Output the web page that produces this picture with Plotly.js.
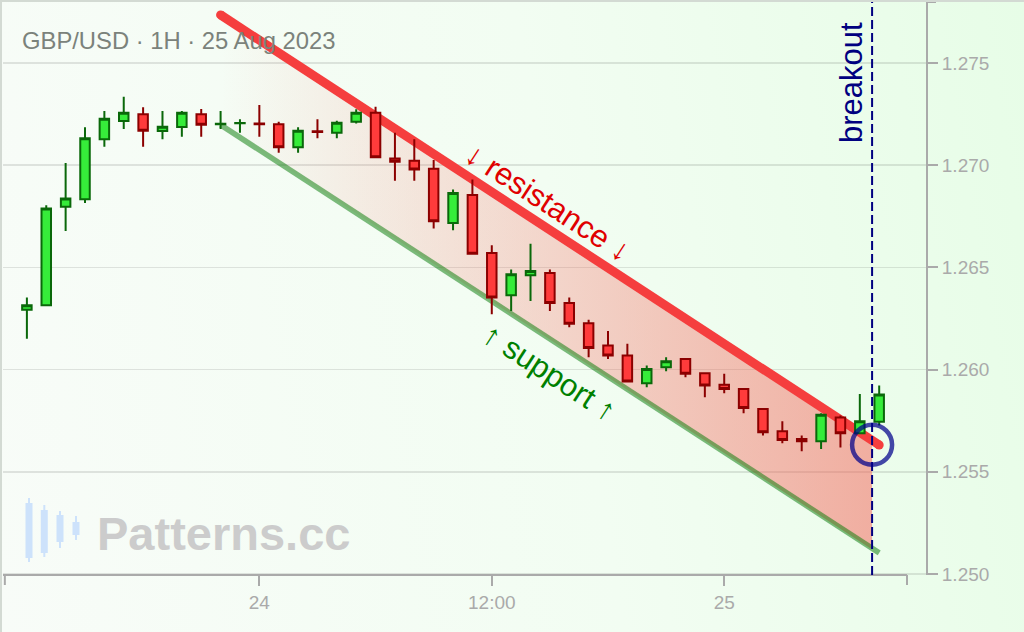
<!DOCTYPE html>
<html><head><meta charset="utf-8">
<script src="https://cdn.plot.ly/plotly-3.0.1.min.js"></script>
<style>
html,body{margin:0;padding:0;}
body{width:1024px;height:632px;overflow:hidden;position:relative;
 background:linear-gradient(80deg,#f8fcf8 0%,#f2fdf2 55%,#e7fde7 100%);}
#chart{width:1024px;height:632px;}
#frame{position:absolute;left:0;top:0;width:1024px;height:632px;border-top:2px solid #d3dad3;border-left:2px solid #d3dad3;box-sizing:border-box;pointer-events:none;}
</style></head>
<body><div id="chart"></div><div id="frame"></div>
<script>
// ---- data ----
const times = [
 '2023-08-23 12:00','2023-08-23 13:00','2023-08-23 14:00','2023-08-23 15:00','2023-08-23 16:00','2023-08-23 17:00',
 '2023-08-23 18:00','2023-08-23 19:00','2023-08-23 20:00','2023-08-23 21:00','2023-08-23 22:00','2023-08-23 23:00',
 '2023-08-24 00:00','2023-08-24 01:00','2023-08-24 02:00','2023-08-24 03:00','2023-08-24 04:00','2023-08-24 05:00',
 '2023-08-24 06:00','2023-08-24 07:00','2023-08-24 08:00','2023-08-24 09:00','2023-08-24 10:00','2023-08-24 11:00',
 '2023-08-24 12:00','2023-08-24 13:00','2023-08-24 14:00','2023-08-24 15:00','2023-08-24 16:00','2023-08-24 17:00',
 '2023-08-24 18:00','2023-08-24 19:00','2023-08-24 20:00','2023-08-24 21:00','2023-08-24 22:00','2023-08-24 23:00',
 '2023-08-25 00:00','2023-08-25 01:00','2023-08-25 02:00','2023-08-25 03:00','2023-08-25 04:00','2023-08-25 05:00',
 '2023-08-25 06:00','2023-08-25 07:00','2023-08-25 08:00'];
const opens = [1.26293,1.26314,1.26796,1.26833,1.27127,1.27216,1.27249,1.27167,1.27186,1.27249,1.27200,1.27205,1.27204,1.27200,1.27087,1.27166,1.27158,1.27212,1.27256,1.27033,1.27021,1.26982,1.26717,1.26854,1.26570,1.26363,1.26461,1.26472,1.26325,1.26227,1.26118,1.26069,1.25933,1.26011,1.26052,1.25982,1.25926,1.25905,1.25807,1.25698,1.25660,1.25649,1.25766,1.25688,1.25745];
const highs = [1.26352,1.26804,1.27011,1.27185,1.27265,1.27335,1.27283,1.27265,1.27265,1.27275,1.27265,1.27224,1.27294,1.27212,1.27185,1.27224,1.27217,1.27273,1.27286,1.27158,1.27126,1.27025,1.26881,1.26930,1.26608,1.26489,1.26616,1.26489,1.26352,1.26244,1.26188,1.26126,1.26020,1.26060,1.26055,1.25984,1.25979,1.25907,1.25808,1.25747,1.25677,1.25786,1.25775,1.25881,1.25922];
const lows = [1.26151,1.26310,1.26678,1.26815,1.27090,1.27177,1.27090,1.27127,1.27139,1.27139,1.27177,1.27158,1.27139,1.27060,1.27060,1.27131,1.27131,1.27204,1.27035,1.26923,1.26923,1.26690,1.26681,1.26565,1.26270,1.26286,1.26335,1.26286,1.26207,1.26060,1.26052,1.25938,1.25913,1.25992,1.25962,1.25864,1.25884,1.25786,1.25677,1.25639,1.25600,1.25611,1.25619,1.25686,1.25726];
const closes = [1.26314,1.26788,1.26837,1.27131,1.27227,1.27256,1.27168,1.27188,1.27256,1.27198,1.27203,1.27206,1.27200,1.27087,1.27168,1.27162,1.27207,1.27256,1.27038,1.27016,1.26979,1.26726,1.26864,1.26567,1.26352,1.26466,1.26482,1.26325,1.26224,1.26106,1.26069,1.25941,1.26003,1.26041,1.25979,1.25922,1.25905,1.25812,1.25693,1.25655,1.25649,1.25779,1.25688,1.25747,1.25878];

const lineTimes = ['2023-08-23 22:00','2023-08-25 08:00'];
const resistanceVals = [1.27735, 1.25631];
const supportVals = [1.27197, 1.25103];
const channelTimes = ['2023-08-23 22:00','2023-08-25 07:38'];
const channelTop = [1.27735, 1.25647];
const channelBottom = [1.27197, 1.25120];
const breakoutTime = '2023-08-25 07:38';
const breakoutPrice = 1.25632;

const xTickVals = ['2023-08-24 00:00','2023-08-24 12:00','2023-08-25 00:00'];
const xTickText = ['24','12:00','25'];
const yTickVals = [1.250,1.255,1.260,1.265,1.270,1.275];
const xRange = ['2023-08-23 10:46','2023-08-25 10:25'];
const yRange = [1.24995, 1.27798];

const FONT = 'Liberation Sans, Arial, sans-serif';
const AX = '#aaaaaa';

// ---- traces ----
const fillTrace = {
  type:'scatter', mode:'none',
  x:[channelTimes[0], channelTimes[1], channelTimes[1], channelTimes[0]],
  y:[channelTop[0], channelTop[1], channelBottom[1], channelBottom[0]],
  fill:'toself',
  fillgradient:{type:'horizontal', colorscale:[[0,'rgba(245,95,85,0)'],[1,'rgba(245,95,85,0.5)']]},
  hoverinfo:'skip', showlegend:false
};
const supportTrace = {
  type:'scatter', mode:'lines', x:lineTimes, y:supportVals,
  line:{color:'rgba(0,120,0,0.5)', width:5.5}, hoverinfo:'skip', showlegend:false
};
const resistanceTrace = {
  type:'scatter', mode:'lines+markers', x:lineTimes, y:resistanceVals,
  line:{color:'rgb(245,62,62)', width:9}, marker:{color:'rgb(245,62,62)', size:9},
  hoverinfo:'skip', showlegend:false
};
// candles on an overlaying axis pair so they are drawn above the channel
const candles = {
  type:'candlestick', x:times, open:opens, high:highs, low:lows, close:closes,
  xaxis:'x2', yaxis:'y2',
  increasing:{line:{color:'#0a680a', width:2}, fillcolor:'#36ec3a'},
  decreasing:{line:{color:'#8b0000', width:2}, fillcolor:'#ff3b3b'},
  hoverinfo:'skip', showlegend:false
};

// watermark icon candles (pixel offsets from plot's left/bottom edge)
const iconColor = '#cde2fb';
const icon = [[26,72,17,77,13],[41.3,65,22,70,18],[57,60,33,64,27],[73,53,40,59,35]];
const iconShapes = [];
icon.forEach(c=>{
  iconShapes.push({type:'line', xref:'paper', yref:'paper', xsizemode:'pixel', ysizemode:'pixel',
    xanchor:0, yanchor:0, x0:c[0], x1:c[0], y0:c[4], y1:c[3], line:{color:iconColor, width:2}});
  iconShapes.push({type:'rect', xref:'paper', yref:'paper', xsizemode:'pixel', ysizemode:'pixel',
    xanchor:0, yanchor:0, x0:c[0]-3.5, x1:c[0]+3.5, y0:c[2], y1:c[1], fillcolor:iconColor, line:{width:0}});
});

const xEnd = (907-3)/923;
const shapes = [
  {type:'line', xref:'paper', yref:'paper', x0:0, x1:xEnd, y0:0, y1:0, line:{color:AX, width:2}, layer:'above'},
  {type:'line', xref:'paper', yref:'paper', ysizemode:'pixel', yanchor:0, x0:0.002, x1:0.002, y0:0, y1:-10, line:{color:AX, width:2}},
  {type:'line', xref:'paper', yref:'paper', ysizemode:'pixel', yanchor:0, x0:xEnd, x1:xEnd, y0:0, y1:-10, line:{color:AX, width:2}},
  {type:'line', xref:'paper', yref:'paper', xsizemode:'pixel', xanchor:1, x0:0, x1:10, y0:1, y1:1, line:{color:AX, width:2}},
  {type:'line', xref:'x', yref:'paper', x0:breakoutTime, x1:breakoutTime, y0:0, y1:1.004,
    line:{color:'#000080', width:2, dash:'9px,4px'}, layer:'above'},
  {type:'circle', xref:'x', yref:'y', xsizemode:'pixel', ysizemode:'pixel', xanchor:breakoutTime, yanchor:breakoutPrice,
    x0:-20, x1:20, y0:-20, y1:20, line:{color:'rgba(0,0,139,0.72)', width:4.5}, layer:'above'}
].concat(iconShapes);

const annotations = [
  {text:'breakout', xref:'x', yref:'paper', x:breakoutTime, xshift:-20, y:(575-83)/573, textangle:-90,
   showarrow:false, xanchor:'center', yanchor:'middle', font:{family:FONT, size:31, color:'#000080'}},
  {text:'↓ resistance ↓', xref:'x', yref:'y', x:'2023-08-24 14:53', y:1.26815, textangle:33,
   showarrow:false, xanchor:'center', yanchor:'middle', font:{family:FONT, size:31, color:'#e00000'}},
  {text:'↑ support ↑', xref:'x', yref:'y', x:'2023-08-24 15:00', y:1.25988, textangle:33,
   showarrow:false, xanchor:'center', yanchor:'middle', font:{family:FONT, size:31, color:'#008000'}},
  {text:'<b>Patterns.cc</b>', xref:'paper', yref:'paper', x:(95-3)/923, y:(575-533)/573,
   showarrow:false, xanchor:'left', yanchor:'middle', font:{family:FONT, size:47, color:'#cccccc'}}
];

const layout = {
  width:1024, height:632,
  margin:{l:3, r:98, t:2, b:57, pad:0},
  paper_bgcolor:'rgba(0,0,0,0)', plot_bgcolor:'rgba(0,0,0,0)',
  showlegend:false,
  title:{text:'GBP/USD · 1H · 25 Aug 2023', xref:'container', yref:'container', x:22/1024, xanchor:'left',
         y:1-41/632, yanchor:'middle', font:{family:FONT, size:23.8, color:'#7b827b'}},
  xaxis:{type:'date', range:xRange, domain:[0,1], showline:false, showgrid:false, zeroline:false,
         ticks:'outside', ticklen:10, tickwidth:2, tickcolor:AX,
         tickvals:xTickVals, ticktext:xTickText, tickfont:{family:FONT, size:19, color:AX},
         rangeslider:{visible:false}, fixedrange:true},
  yaxis:{side:'right', range:yRange, showline:true, linecolor:AX, linewidth:2,
         ticks:'outside', ticklen:10, tickwidth:2, tickcolor:AX,
         tickvals:yTickVals, tickformat:'.3f', tickfont:{family:FONT, size:19, color:AX},
         showgrid:true, gridcolor:'rgba(0,0,0,0.1)', gridwidth:1.5, zeroline:false, fixedrange:true},
  xaxis2:{type:'date', range:xRange, overlaying:'x', anchor:'y2', visible:false, showgrid:false,
         rangeslider:{visible:false}, fixedrange:true},
  yaxis2:{range:yRange, overlaying:'y', anchor:'x2', side:'right', visible:false, showgrid:false, fixedrange:true},
  shapes:shapes, annotations:annotations
};

Plotly.newPlot('chart', [fillTrace, supportTrace, resistanceTrace, candles], layout, {staticPlot:true, displayModeBar:false});
</script></body></html>
